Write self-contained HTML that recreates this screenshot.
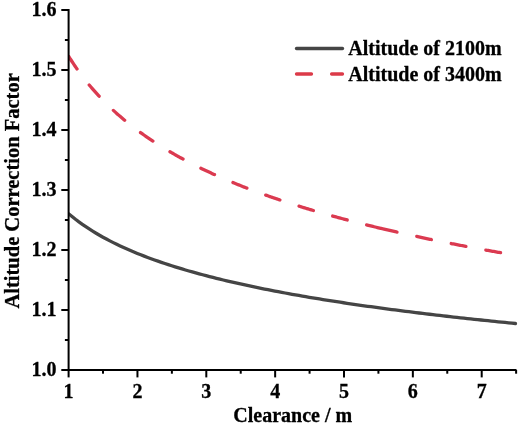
<!DOCTYPE html>
<html><head><meta charset="utf-8"><style>
html,body{margin:0;padding:0;background:#fff;}
svg{display:block;filter:blur(0.35px);}
text{font-family:"Liberation Serif",serif;font-weight:bold;fill:#000;stroke:#000;stroke-width:0.3px;}
</style></head><body>
<svg width="520" height="426" viewBox="0 0 520 426">
<rect width="520" height="426" fill="#fff"/>
<defs><clipPath id="pc"><rect x="68.6" y="0" width="452" height="426"/></clipPath></defs>
<g clip-path="url(#pc)">
<path d="M68.60,213.70 L72.04,216.56 L75.47,219.29 L78.91,221.88 L82.35,224.35 L85.79,226.72 L89.22,228.98 L92.66,231.15 L96.10,233.24 L99.53,235.25 L102.97,237.19 L106.41,239.05 L109.85,240.86 L113.28,242.60 L116.72,244.29 L120.16,245.92 L123.60,247.51 L127.03,249.05 L130.47,250.54 L133.91,252.00 L137.34,253.41 L140.78,254.79 L144.22,256.13 L147.66,257.43 L151.09,258.71 L154.53,259.95 L157.97,261.17 L161.40,262.35 L164.84,263.51 L168.28,264.64 L171.72,265.75 L175.15,266.84 L178.59,267.90 L182.03,268.94 L185.46,269.96 L188.90,270.96 L192.34,271.94 L195.78,272.90 L199.21,273.84 L202.65,274.77 L206.09,275.68 L209.53,276.57 L212.96,277.45 L216.40,278.31 L219.84,279.16 L223.27,279.99 L226.71,280.81 L230.15,281.62 L233.59,282.41 L237.02,283.19 L240.46,283.96 L243.90,284.72 L247.33,285.46 L250.77,286.20 L254.21,286.92 L257.65,287.64 L261.08,288.34 L264.52,289.03 L267.96,289.72 L271.40,290.39 L274.83,291.06 L278.27,291.71 L281.71,292.36 L285.14,293.00 L288.58,293.63 L292.02,294.26 L295.46,294.87 L298.89,295.48 L302.33,296.08 L305.77,296.67 L309.20,297.26 L312.64,297.84 L316.08,298.41 L319.52,298.97 L322.95,299.53 L326.39,300.08 L329.83,300.63 L333.26,301.17 L336.70,301.70 L340.14,302.23 L343.58,302.75 L347.01,303.27 L350.45,303.78 L353.89,304.29 L357.33,304.79 L360.76,305.28 L364.20,305.77 L367.64,306.26 L371.07,306.74 L374.51,307.22 L377.95,307.69 L381.39,308.15 L384.82,308.62 L388.26,309.07 L391.70,309.53 L395.13,309.98 L398.57,310.42 L402.01,310.86 L405.45,311.30 L408.88,311.73 L412.32,312.16 L415.76,312.59 L419.19,313.01 L422.63,313.43 L426.07,313.84 L429.51,314.25 L432.94,314.66 L436.38,315.06 L439.82,315.46 L443.26,315.86 L446.69,316.25 L450.13,316.64 L453.57,317.03 L457.00,317.41 L460.44,317.79 L463.88,318.17 L467.32,318.54 L470.75,318.91 L474.19,319.28 L477.63,319.65 L481.06,320.01 L484.50,320.37 L487.94,320.73 L491.38,321.08 L494.81,321.44 L498.25,321.79 L501.69,322.13 L505.12,322.48 L508.56,322.82 L512.00,323.16 L515.44,323.49" fill="none" stroke="#454545" stroke-width="3.3" stroke-linecap="round" stroke-linejoin="round"/>
<path d="M68.60,56.20 L69.72,58.00 L70.84,59.76 L71.96,61.49 L73.08,63.19 L74.19,64.87 L75.31,66.51 L76.43,68.13 L77.55,69.72 L78.67,71.29 L79.79,72.83 L80.91,74.35 L82.03,75.85 L83.14,77.32 L84.26,78.77 L85.38,80.20 L86.50,81.61 L87.62,82.99 L88.74,84.36 L89.86,85.71 L90.98,87.04 L92.10,88.35 L93.21,89.65 L94.33,90.92 L95.45,92.18 L96.57,93.43 L97.69,94.66 L98.81,95.87 L99.93,97.07 L101.05,98.25 L102.16,99.41 L103.28,100.57 L104.40,101.71 L105.52,102.83 L106.64,103.95 L107.76,105.04 L108.88,106.13 L110.00,107.21 L111.11,108.27 L112.23,109.32 L113.35,110.36 L114.47,111.38 L115.59,112.40 L116.71,113.41 L117.83,114.40 L118.95,115.38 L120.07,116.36 L121.18,117.32 L122.30,118.27 L123.42,119.22 L124.54,120.15 L125.66,121.08 L126.78,121.99 L127.90,122.90 L129.02,123.80 L130.13,124.69 L131.25,125.57 L132.37,126.44 L133.49,127.30 L134.61,128.16 L135.73,129.01 L136.85,129.85 L137.97,130.68 L139.09,131.51 L140.20,132.32 L141.32,133.13 L142.44,133.94 L143.56,134.73 L144.68,135.52 L145.80,136.31 L146.92,137.08 L148.04,137.85 L149.15,138.61 L150.27,139.37 L151.39,140.12 L152.51,140.86 L153.63,141.60 L154.75,142.33 L155.87,143.06 L156.99,143.78 L158.10,144.49 L159.22,145.20 L160.34,145.91 L161.46,146.60 L162.58,147.30 L163.70,147.98 L164.82,148.66 L165.94,149.34 L167.06,150.01 L168.17,150.68 L169.29,151.34 L170.41,152.00 L171.53,152.65 L172.65,153.30 L173.77,153.94 L174.89,154.58 L176.01,155.21 L177.12,155.84 L178.24,156.46 L179.36,157.08 L180.48,157.70 L181.60,158.31 L182.72,158.92 L183.84,159.52 L184.96,160.12 L186.08,160.71 L187.19,161.30 L188.31,161.89 L189.43,162.47 L190.55,163.05 L191.67,163.63 L192.79,164.20 L193.91,164.77 L195.03,165.33 L196.14,165.89 L197.26,166.45 L198.38,167.00 L199.50,167.55 L200.62,168.10 L201.74,168.64 L202.86,169.18 L203.98,169.72 L205.10,170.25 L206.21,170.78 L207.33,171.31 L208.45,171.83 L209.57,172.35 L210.69,172.87 L211.81,173.39 L212.93,173.90 L214.05,174.41 L215.16,174.91 L216.28,175.41 L217.40,175.91 L218.52,176.41 L219.64,176.90 L220.76,177.39 L221.88,177.88 L223.00,178.37 L224.11,178.85 L225.23,179.33 L226.35,179.81 L227.47,180.28 L228.59,180.75 L229.71,181.22 L230.83,181.69 L231.95,182.15 L233.07,182.62 L234.18,183.08 L235.30,183.53 L236.42,183.99 L237.54,184.44 L238.66,184.89 L239.78,185.34 L240.90,185.78 L242.02,186.22 L243.13,186.66 L244.25,187.10 L245.37,187.54 L246.49,187.97 L247.61,188.40 L248.73,188.83 L249.85,189.26 L250.97,189.69 L252.09,190.11 L253.20,190.53 L254.32,190.95 L255.44,191.36 L256.56,191.78 L257.68,192.19 L258.80,192.60 L259.92,193.01 L261.04,193.42 L262.15,193.82 L263.27,194.23 L264.39,194.63 L265.51,195.03 L266.63,195.42 L267.75,195.82 L268.87,196.21 L269.99,196.60 L271.11,196.99 L272.22,197.38 L273.34,197.77 L274.46,198.15 L275.58,198.53 L276.70,198.91 L277.82,199.29 L278.94,199.67 L280.06,200.05 L281.17,200.42 L282.29,200.79 L283.41,201.16 L284.53,201.53 L285.65,201.90 L286.77,202.27 L287.89,202.63 L289.01,202.99 L290.12,203.35 L291.24,203.71 L292.36,204.07 L293.48,204.43 L294.60,204.78 L295.72,205.14 L296.84,205.49 L297.96,205.84 L299.08,206.19 L300.19,206.54 L301.31,206.88 L302.43,207.23 L303.55,207.57 L304.67,207.91 L305.79,208.25 L306.91,208.59 L308.03,208.93 L309.14,209.27 L310.26,209.60 L311.38,209.93 L312.50,210.27 L313.62,210.60 L314.74,210.93 L315.86,211.26 L316.98,211.58 L318.10,211.91 L319.21,212.23 L320.33,212.56 L321.45,212.88 L322.57,213.20 L323.69,213.52 L324.81,213.84 L325.93,214.15 L327.05,214.47 L328.16,214.78 L329.28,215.10 L330.40,215.41 L331.52,215.72 L332.64,216.03 L333.76,216.34 L334.88,216.64 L336.00,216.95 L337.12,217.26 L338.23,217.56 L339.35,217.86 L340.47,218.16 L341.59,218.47 L342.71,218.76 L343.83,219.06 L344.95,219.36 L346.07,219.66 L347.18,219.95 L348.30,220.25 L349.42,220.54 L350.54,220.83 L351.66,221.12 L352.78,221.41 L353.90,221.70 L355.02,221.99 L356.13,222.28 L357.25,222.56 L358.37,222.85 L359.49,223.13 L360.61,223.41 L361.73,223.70 L362.85,223.98 L363.97,224.26 L365.09,224.54 L366.20,224.81 L367.32,225.09 L368.44,225.37 L369.56,225.64 L370.68,225.92 L371.80,226.19 L372.92,226.46 L374.04,226.73 L375.15,227.00 L376.27,227.27 L377.39,227.54 L378.51,227.81 L379.63,228.08 L380.75,228.34 L381.87,228.61 L382.40,228.74" fill="none" stroke="#db3a50" stroke-width="3.3" stroke-linecap="round" stroke-linejoin="round" stroke-dasharray="15 20.1" stroke-dashoffset="-0.3"/>
<path d="M382.40,228.74 L382.99,228.87 L384.11,229.14 L385.22,229.40 L386.34,229.66 L387.46,229.92 L388.58,230.18 L389.70,230.44 L390.82,230.70 L391.94,230.96 L393.06,231.21 L394.17,231.47 L395.29,231.73 L396.41,231.98 L397.53,232.23 L398.65,232.49 L399.77,232.74 L400.89,232.99 L402.01,233.24 L403.12,233.49 L404.24,233.74 L405.36,233.99 L406.48,234.23 L407.60,234.48 L408.72,234.73 L409.84,234.97 L410.96,235.22 L412.08,235.46 L413.19,235.70 L414.31,235.94 L415.43,236.19 L416.55,236.43 L417.67,236.67 L418.79,236.90 L419.91,237.14 L421.03,237.38 L422.14,237.62 L423.26,237.85 L424.38,238.09 L425.50,238.32 L426.62,238.56 L427.74,238.79 L428.86,239.03 L429.98,239.26 L431.10,239.49 L432.21,239.72 L433.33,239.95 L434.45,240.18 L435.57,240.41 L436.69,240.64 L437.81,240.86 L438.93,241.09 L440.05,241.32 L441.16,241.54 L442.28,241.77 L443.40,241.99 L444.52,242.22 L445.64,242.44 L446.76,242.66 L447.88,242.88 L449.00,243.10 L450.12,243.32 L451.23,243.54 L452.35,243.76 L453.47,243.98 L454.59,244.20 L455.71,244.42 L456.83,244.63 L457.95,244.85 L459.07,245.07 L460.18,245.28 L461.30,245.50 L462.42,245.71 L463.54,245.92 L464.66,246.14 L465.78,246.35 L466.90,246.56 L468.02,246.77 L469.13,246.98 L470.25,247.19 L471.37,247.40 L472.49,247.61 L473.61,247.82 L474.73,248.03 L475.85,248.23 L476.97,248.44 L478.09,248.65 L479.20,248.85 L480.32,249.06 L481.44,249.26 L482.56,249.47 L483.68,249.67 L484.80,249.87 L485.92,250.07 L487.04,250.28 L488.15,250.48 L489.27,250.68 L490.39,250.88 L491.51,251.08 L492.63,251.28 L493.75,251.48 L494.87,251.67 L495.99,251.87 L497.11,252.07 L498.22,252.27 L499.34,252.46 L500.46,252.66 L501.58,252.85 L502.70,253.05 L503.82,253.24 L504.94,253.44 L506.06,253.63 L507.17,253.82 L508.29,254.02 L509.41,254.21 L510.53,254.40 L511.65,254.59 L512.77,254.78 L513.89,254.97 L515.01,255.16 L516.12,255.35" fill="none" stroke="#db3a50" stroke-width="3.3" stroke-linecap="round" stroke-linejoin="round" stroke-dasharray="15 20.2"/>
</g>
<g stroke="#000" stroke-width="2" fill="none">
<line x1="68.6" y1="9" x2="68.6" y2="371"/>
<line x1="67.6" y1="370.0" x2="516.5" y2="370.0"/>
<line x1="61.30" y1="370.00" x2="68.60" y2="370.00"/>
<line x1="64.90" y1="340.00" x2="68.60" y2="340.00"/>
<line x1="61.30" y1="310.00" x2="68.60" y2="310.00"/>
<line x1="64.90" y1="280.00" x2="68.60" y2="280.00"/>
<line x1="61.30" y1="250.00" x2="68.60" y2="250.00"/>
<line x1="64.90" y1="220.00" x2="68.60" y2="220.00"/>
<line x1="61.30" y1="190.00" x2="68.60" y2="190.00"/>
<line x1="64.90" y1="160.00" x2="68.60" y2="160.00"/>
<line x1="61.30" y1="130.00" x2="68.60" y2="130.00"/>
<line x1="64.90" y1="100.00" x2="68.60" y2="100.00"/>
<line x1="61.30" y1="70.00" x2="68.60" y2="70.00"/>
<line x1="64.90" y1="40.00" x2="68.60" y2="40.00"/>
<line x1="61.30" y1="10.00" x2="68.60" y2="10.00"/>
<line x1="68.60" y1="370.00" x2="68.60" y2="377.40"/>
<line x1="103.02" y1="370.00" x2="103.02" y2="373.70"/>
<line x1="137.45" y1="370.00" x2="137.45" y2="377.40"/>
<line x1="171.88" y1="370.00" x2="171.88" y2="373.70"/>
<line x1="206.30" y1="370.00" x2="206.30" y2="377.40"/>
<line x1="240.72" y1="370.00" x2="240.72" y2="373.70"/>
<line x1="275.15" y1="370.00" x2="275.15" y2="377.40"/>
<line x1="309.57" y1="370.00" x2="309.57" y2="373.70"/>
<line x1="344.00" y1="370.00" x2="344.00" y2="377.40"/>
<line x1="378.42" y1="370.00" x2="378.42" y2="373.70"/>
<line x1="412.85" y1="370.00" x2="412.85" y2="377.40"/>
<line x1="447.27" y1="370.00" x2="447.27" y2="373.70"/>
<line x1="481.70" y1="370.00" x2="481.70" y2="377.40"/>
<line x1="516.12" y1="370.00" x2="516.12" y2="373.70"/>
</g>
<g font-size="20">
<text x="56.5" y="376.00" text-anchor="end">1.0</text>
<text x="56.5" y="316.00" text-anchor="end">1.1</text>
<text x="56.5" y="256.00" text-anchor="end">1.2</text>
<text x="56.5" y="196.00" text-anchor="end">1.3</text>
<text x="56.5" y="136.00" text-anchor="end">1.4</text>
<text x="56.5" y="76.00" text-anchor="end">1.5</text>
<text x="56.5" y="16.00" text-anchor="end">1.6</text>
<text x="68.60" y="397.7" text-anchor="middle">1</text>
<text x="137.45" y="397.7" text-anchor="middle">2</text>
<text x="206.30" y="397.7" text-anchor="middle">3</text>
<text x="275.15" y="397.7" text-anchor="middle">4</text>
<text x="344.00" y="397.7" text-anchor="middle">5</text>
<text x="412.85" y="397.7" text-anchor="middle">6</text>
<text x="481.70" y="397.7" text-anchor="middle">7</text>
</g>
<text x="0" y="0" font-size="20.5" text-anchor="middle" transform="translate(19 190.85) rotate(-90)">Altitude Correction Factor</text>
<text x="292.7" y="421.9" font-size="20" text-anchor="middle">Clearance / m</text>
<line x1="296.5" y1="48.5" x2="342.5" y2="48.5" stroke="#454545" stroke-width="3.3" stroke-linecap="round"/>
<line x1="296.5" y1="74" x2="342.5" y2="74" stroke="#dc3a48" stroke-width="3.3" stroke-linecap="round" stroke-dasharray="15 20.1"/>
<g font-size="20">
<text x="348.3" y="55.3">Altitude of 2100m</text>
<text x="348.3" y="80.7">Altitude of 3400m</text>
</g>
</svg>
</body></html>
